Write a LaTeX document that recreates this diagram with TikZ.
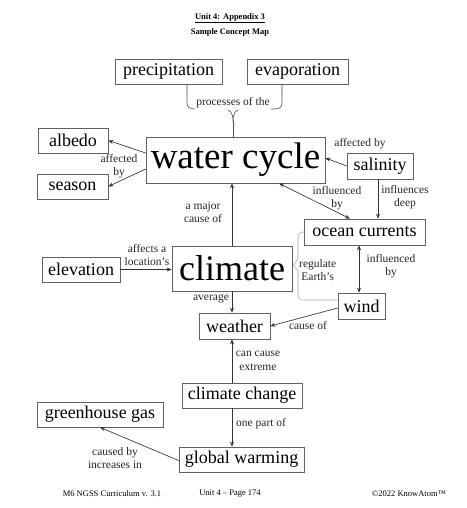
\documentclass[tikz,border=0pt]{standalone}
\usepackage{fontspec}
\setmainfont{Liberation Serif}
\usetikzlibrary{arrows.meta}
\begin{document}
\begin{tikzpicture}[x=1pt,y=-1pt,
  box/.style={draw=gray!75!black, line width=0.7pt, inner sep=0pt, font=\fontsize{18}{20}\selectfont, fill=white},
  bigbox/.style={box, font=\fontsize{37}{40}\selectfont},
  lbl/.style={align=center, inner sep=1pt, font=\fontsize{11.5}{13.5}\selectfont, text=black!85},
  conn/.style={draw=black!80, line width=0.65pt},
  arr/.style={conn, -{Stealth[length=5pt,width=4pt]}},
  darr/.style={conn, {Stealth[length=5pt,width=4pt]}-{Stealth[length=5pt,width=4pt]}},
  bracel/.style={draw=black!70, line width=0.6pt},
  graybrace/.style={draw=gray!40, line width=1.1pt},
  small/.style={font=\fontsize{8.5}{10}\selectfont, inner sep=0pt}
]
\useasboundingbox (0,0) rectangle (466,508);
\fill[white] (0,0) rectangle (466,508);

% title and footer
\node[small, font=\fontsize{8.5}{10}\selectfont\bfseries] (t1) at (230,18) {\underline{Unit 4: Appendix 3}};
\node[small, font=\fontsize{8.5}{10}\selectfont\bfseries] (t2) at (230,32) {Sample Concept Map};
\node[small] (f1) at (112,494) {M6 NGSS Curriculum v. 3.1};
\node[small] (f2) at (230,494) {Unit 4 – Page 174};
\node[small] (f3) at (409,494) {©2022 KnowAtom™};

% nodes
\node[box, minimum width=107pt, minimum height=25pt] (prec) at (168.5,71.5) {precipitation};
\node[box, minimum width=101pt, minimum height=25pt] (evap) at (297.5,71.5) {evaporation};
\node[bigbox, minimum width=179pt, minimum height=46pt] (wc) at (235.5,160) {water cycle};
\node[box, minimum width=70pt, minimum height=25pt] (albedo) at (73,140.5) {albedo};
\node[box, minimum width=71pt, minimum height=25pt] (season) at (72.5,186.5) {season};
\node[box, minimum width=66pt, minimum height=26pt] (salinity) at (380,166) {salinity};
\node[box, minimum width=121pt, minimum height=26pt] (ocean) at (364.5,232) {ocean currents};
\node[bigbox, font=\fontsize{36}{40}\selectfont, minimum width=120pt, minimum height=45pt] (climate) at (232,268.5) {climate};
\node[box, minimum width=78pt, minimum height=25pt] (elev) at (81,269.5) {elevation};
\node[box, minimum width=71pt, minimum height=26pt] (weather) at (234.5,326) {weather};
\node[box, minimum width=47pt, minimum height=26pt] (wind) at (361.5,306) {wind};
\node[box, minimum width=120pt, minimum height=25pt] (cc) at (242,395.5) {climate change};
\node[box, minimum width=126pt, minimum height=25pt] (gh) at (100,414.5) {greenhouse gas};
\node[box, minimum width=125pt, minimum height=25pt] (gw) at (241.5,459.5) {global warming};

% top brace: processes of the
\coordinate (pj) at (233,121);
\draw[bracel] ([xshift=18.5pt]prec.south) -- (187,102) .. controls (187,107) and (189,109) .. (195,109) -- (224,109) .. controls (230,109) and (233,113) .. (pj);
\draw[bracel] ([xshift=-15.5pt]evap.south) -- (282,102) .. controls (282,107) and (280,109) .. (274,109) -- (242,109) .. controls (236,109) and (233,113) .. (pj);
\draw[bracel] (pj) -- (pj |- wc.north);
\node[lbl, fill=white, inner sep=1.5pt] (lproc) at (233,103) {processes of the};

% left arrows
\draw[arr] ([yshift=7pt]wc.west) -- (albedo.east);
\draw[arr] ([yshift=-9pt]wc.west) -- (season.east);
\node[lbl] (laff) at (119,166) {affected\\by};

% salinity
\draw[arr] (salinity.west) -- ([yshift=2pt]wc.east);
\node[lbl] (lsal) at (360,144) {affected by};
\draw[arr] ([xshift=-2pt]salinity.south) -- ([xshift=-2pt]salinity.south |- ocean.north);
\node[lbl] (ldeep) at (405,197) {influences\\deep};

% water cycle <-> ocean currents
\draw[darr] ([xshift=43.5pt]wc.south) -- ([xshift=-14.5pt]ocean.north);
\node[lbl] (linf1) at (337,198) {influenced\\by};

% climate -> water cycle
\draw[arr] (climate.north) -- (climate.north |- wc.south);
\node[lbl] (lmaj) at (203,212) {a major\\cause of};

% elevation -> climate
\draw[arr] (elev.east) -- (elev.east -| climate.west);
\node[lbl] (lelev) at (147,255) {affects a\\location’s};

% gray brace regulate
\coordinate (brtip) at (293.5,265);
\draw[graybrace] (ocean.west) -- (304,232) .. controls (300,232) and (298,234) .. (298,239) -- (298,259) -- (brtip) -- (298,271) -- (298,294) .. controls (298,299) and (300,300) .. (305,300) -- ([yshift=6pt]wind.west);
\node[lbl, fill=white, anchor=west, inner sep=0.5pt] (lreg) at (298.5,270) {regulate\\Earth’s};

% ocean <-> wind
\draw[darr] ([xshift=-2.5pt]wind.north) -- ([xshift=-2.5pt]wind.north |- ocean.south);
\node[lbl] (linf2) at (391,266) {influenced\\by};

% climate -> weather
\draw[arr] (climate.south) -- (climate.south |- weather.north);
\node[lbl] (lavg) at (211,299) {average};

% wind -> weather
\draw[arr] ([yshift=-2pt]wind.west) -- (weather.east);
\node[lbl] (lcause) at (308,326) {cause of};

% climate change -> weather
\draw[arr] (climate.south |- cc.north) -- (climate.south |- weather.south);
\node[lbl] (lext) at (258,361) {can cause\\extreme};

% climate change -> global warming
\draw[arr] (climate.south |- cc.south) -- (climate.south |- gw.north);
\node[lbl, anchor=west] (lpart) at (235,424) {one part of};

% global warming -> greenhouse gas
\draw[arr] ([yshift=-1pt]gw.west) -- (gh.south);
\node[lbl] (lgh) at (115,458) {caused by\\increases in};
\end{tikzpicture}
\end{document}
